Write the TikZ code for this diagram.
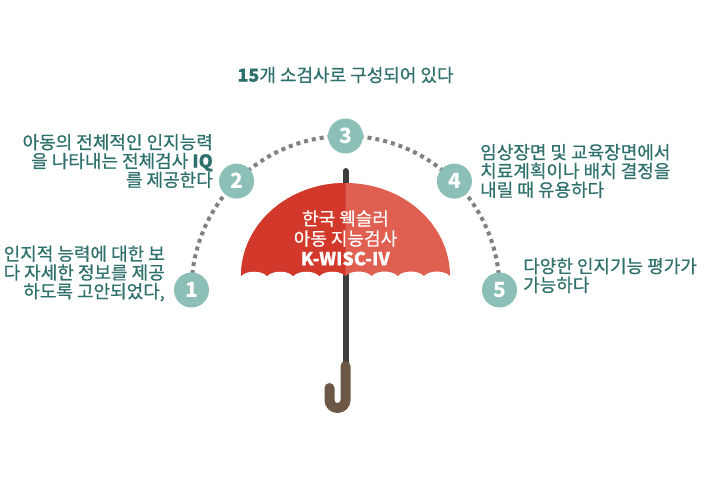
\documentclass[tikz,border=0pt]{standalone}
\usepackage{fontspec}
\setmainfont{Noto Sans CJK KR}
\newfontfamily\notefont{Noto Sans CJK KR}[FakeBold=0.6]

\definecolor{numc}{HTML}{8CBFB6}
\definecolor{notec}{HTML}{2E706B}
\definecolor{dotc}{HTML}{808080}
\definecolor{canopyl}{HTML}{D3392A}
\definecolor{canopyr}{HTML}{DF5F50}
\definecolor{shaftc}{HTML}{3D3D3D}
\definecolor{handlec}{HTML}{6D5845}

\newcommand{\canopy}{(241,276) arc[start angle=180, end angle=360, x radius=104.5, y radius=93]
    \foreach \i in {1,...,8} { .. controls ({450-26.125*\i+21},270) and ({450-26.125*\i+5},270) .. ({450-26.125*\i},276) } -- cycle}

\begin{document}
\begin{tikzpicture}[x=1pt, y=-1pt,
    num/.style = {circle, fill=numc, text=white, minimum size=35pt, inner sep=0pt, font=\fontsize{21}{21}\selectfont\bfseries},
    note/.style = {text=notec, inner sep=0pt, font=\fontsize{18}{18.8}\notefont},
    dotline/.style = {draw=dotc, line width=4pt, dash pattern=on 4pt off 4pt}]
    \useasboundingbox (0,0) rectangle (710,489);

    % umbrella
    \draw[shaftc, line width=6pt, line cap=round] (345.5,171) -- (345.5,368);
    \draw[handlec, line width=10pt, line cap=round] (345.5,366) -- (345.5,400) arc[start angle=0, end angle=180, radius=8] -- (329.5,388);
    \fill[canopyr] \canopy;
    \begin{scope}
        \clip (230,170) rectangle (345.5,290);
        \fill[canopyl] \canopy;
    \end{scope}
    \node[text=white, align=center, font=\fontsize{18}{20}\notefont] (title) at (345.5,238) {한국 웩슬러\\아동 지능검사\\\textbf{K-WISC-IV}};

    % steps
    \draw[dotline] (191.5,290) arc[start angle=180, end angle=360, radius=154];
    \node[num] (n1) at (191.5,290) {1};
    \node[num] (n2) at (236.6,181.1) {2};
    \node[num] (n3) at (345.5,136) {3};
    \node[num] (n4) at (454.4,181.1) {4};
    \node[num] (n5) at (499.5,290) {5};

    \node[note] (top) at (345.5,75) {\textbf{15}개 소검사로 구성되어 있다};
    \node[note, align=right, anchor=east] (t1) at (165,273.5) {인지적 능력에 대한 보\\다 자세한 정보를 제공\\하도록 고안되었다,};
    \node[note, align=right, anchor=east] (t2) at (213,161) {아동의 전체적인 인지능력\\을 나타내는 전체검사 \textbf{IQ}\\를 제공한다};
    \node[note, align=left, anchor=west] (t4) at (480,171) {임상장면 및 교육장면에서\\치료계획이나 배치 결정을\\내릴 때 유용하다};
    \node[note, align=left, anchor=west] (t5) at (523,275.5) {다양한 인지기능 평가가\\가능하다};

\end{tikzpicture}
\end{document}
